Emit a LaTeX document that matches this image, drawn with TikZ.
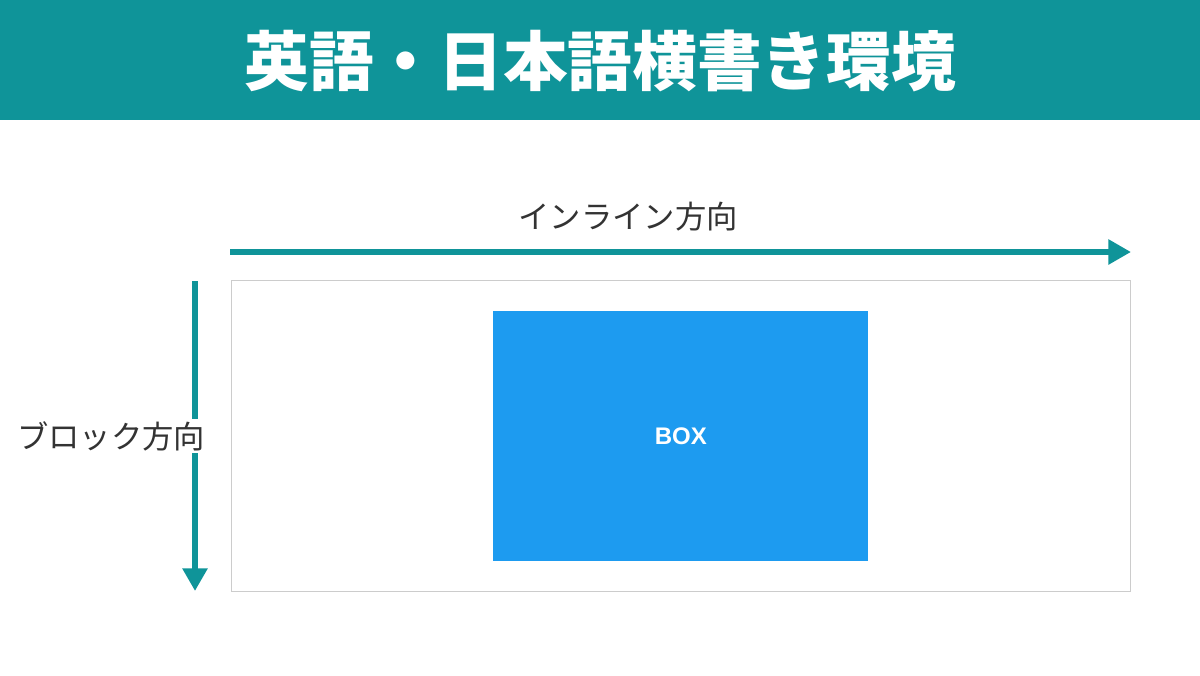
\documentclass[tikz,border=0pt]{standalone}
\usepackage{fontspec}
\setmainfont{Noto Sans CJK JP}
\newfontfamily\boxfont{Liberation Sans}
\usetikzlibrary{arrows.meta}
\definecolor{teal1}{HTML}{0F9499}
\definecolor{boxblue}{HTML}{1D9BF0}
\definecolor{frame}{HTML}{CCCCCC}
\definecolor{txt}{HTML}{333333}
\begin{document}
\begin{tikzpicture}[x=0.75pt,y=-0.75pt,
  dirarrow/.style={draw=teal1,line width=4.5pt,-{Triangle[length=17pt,width=18pt]}},
  dirlabel/.style={text=txt,font=\fontsize{23.5}{26}\selectfont,inner sep=2pt}]
\useasboundingbox (0,0) rectangle (1200,675);
\fill[white] (0,0) rectangle (1200,675);
\fill[teal1] (0,0) rectangle (1200,120);
\node (title) at (600,61) [text=white,font=\fontsize{48.5}{54}\bfseries\selectfont] {英語・日本語横書き環境};
\node (frame) [draw=frame,line width=0.9pt,minimum width=899*0.75pt,minimum height=311*0.75pt,anchor=north west,inner sep=0pt] at (231,280) {};
\node (box) [fill=boxblue,minimum width=375*0.75pt,minimum height=250*0.75pt,anchor=north west,inner sep=0pt] at (493,311) {};
\node at (box.center) [text=white,font=\boxfont\fontsize{18}{20}\bfseries\selectfont] {BOX};
\coordinate (hs) at (230,252);
\coordinate (he) at (1131,252);
\coordinate (vs) at (195,281);
\coordinate (ve) at (195,591);
\draw[dirarrow] (hs) -- (he);
\draw[dirarrow] (vs) -- (ve);
\node (inl) at (628,217) [dirlabel] {インライン方向};
\node (blk) at (111,436) [dirlabel,fill=white] {ブロック方向};
\end{tikzpicture}
\end{document}
